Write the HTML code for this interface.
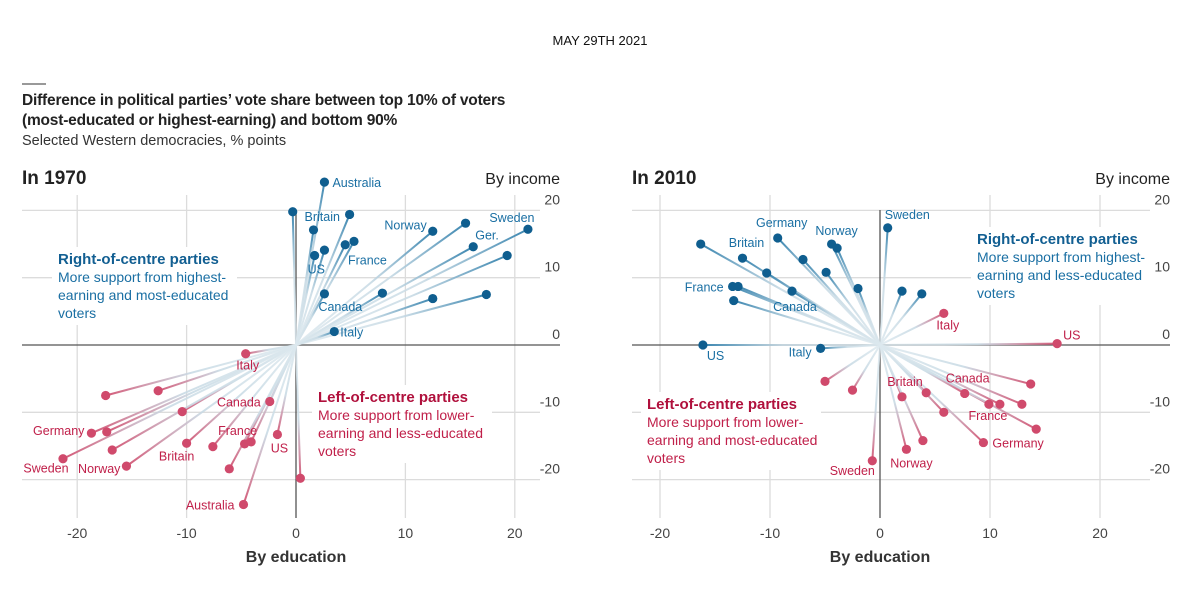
<!DOCTYPE html>
<html><head><meta charset="utf-8">
<style>
body{margin:0;background:#fff;}
svg{display:block;font-family:"Liberation Sans",sans-serif;}
</style></head>
<body>
<svg id="chart" width="1200" height="596" viewBox="0 0 1200 596" xmlns="http://www.w3.org/2000/svg">
<rect width="1200" height="596" fill="#fff"/>
<text x="600" y="45" text-anchor="middle" font-size="13" fill="#111">MAY 29TH 2021</text>
<line x1="22" y1="84" x2="46" y2="84" stroke="#333" stroke-width="1"/>
<text x="22" y="105" font-size="15.5" font-weight="bold" fill="#222" letter-spacing="-0.2">Difference in political parties’ vote share between top 10% of voters</text>
<text x="22" y="125" font-size="15.5" font-weight="bold" fill="#222" letter-spacing="-0.2">(most-educated or highest-earning) and bottom 90%</text>
<text x="22" y="145" font-size="14.5" fill="#333">Selected Western democracies, % points</text>
<defs id="defs"></defs>
<g id="panels"></g>
</svg>
<script>
// ---- data: 1970 ----
const blueX1970 = [2.6, -0.3, 1.6, 4.9, 2.6, 1.7, 4.5, 5.3, 12.5, 15.5, 16.2, 21.2, 19.3, 7.9, 12.5, 17.4, 2.6, 3.5];
const blueY1970 = [24.2, 19.8, 17.1, 19.4, 14.1, 13.3, 14.9, 15.4, 16.9, 18.1, 14.6, 17.2, 13.3, 7.7, 6.9, 7.5, 7.6, 2.0];
const blueNames1970 = ["Australia", "", "Britain", "", "", "US", "", "France", "Norway", "", "Ger.", "Sweden", "", "", "", "", "Canada", "Italy"];
const redX1970 = [-4.6, -17.4, -12.6, -2.4, -10.4, -18.7, -17.3, -16.8, -21.3, -15.5, -10.0, -7.6, -4.7, -4.1, -1.7, -6.1, -4.8, 0.4];
const redY1970 = [-1.3, -7.5, -6.8, -8.4, -9.9, -13.1, -12.9, -15.6, -16.9, -18.0, -14.6, -15.1, -14.7, -14.4, -13.3, -18.4, -23.7, -19.8];
const redNames1970 = ["Italy", "", "", "Canada", "", "Germany", "", "", "Sweden", "Norway", "Britain", "", "France", "", "US", "", "Australia", ""];
// ---- data: 2010 ----
const blueX2010 = [0.7, -16.3, -12.5, -9.3, -7.0, -10.3, -4.4, -3.9, -4.9, -2.0, -13.4, -12.9, -13.3, -8.0, 2.0, 3.8, -16.1, -5.4];
const blueY2010 = [17.4, 15.0, 12.9, 15.9, 12.7, 10.7, 15.0, 14.4, 10.8, 8.4, 8.7, 8.7, 6.6, 8.0, 8.0, 7.6, 0.0, -0.5];
const blueNames2010 = ["Sweden", "", "Britain", "Germany", "", "", "Norway", "", "", "", "France", "", "", "Canada", "", "", "US", "Italy"];
const redX2010 = [5.8, 16.1, -5.0, -2.5, 2.0, 4.2, 5.8, 7.7, 9.9, 10.9, 13.7, 12.9, 14.2, 9.4, 3.9, 2.4, -0.7];
const redY2010 = [4.7, 0.2, -5.4, -6.7, -7.7, -7.1, -10.0, -7.2, -8.8, -8.8, -5.8, -8.8, -12.5, -14.5, -14.2, -15.5, -17.2];
const redNames2010 = ["Italy", "US", "", "", "Britain", "", "", "Canada", "France", "", "", "", "", "Germany", "", "Norway", "Sweden"];
const xTicks = [-20, -10, 0, 10, 20];
const yTicks = [20, 10, 0, -10, -20];

// label placement (offset from point, px)
const labelPos = {
 "1970b": {Australia:[8,5,"start"],Britain:[-9,-9,"start"],US:[-7,18,"start"],France:[-6,23,"start"],Norway:[-6,-2,"end"],"Ger.":[2,-7,"start"],Sweden:[-16,-7,"middle"],Canada:[-6,17,"start"],Italy:[6,5,"start"]},
 "1970r": {Italy:[2,16,"middle"],Canada:[-9,5,"end"],Germany:[-7,2,"end"],Sweden:[-17,14,"middle"],Norway:[-6,7,"end"],Britain:[-10,17,"middle"],France:[-7,-9,"middle"],US:[2,18,"middle"],Australia:[-9,5,"end"]},
 "2010b": {Sweden:[-3,-9,"start"],Germany:[4,-11,"middle"],Norway:[5,-9,"middle"],Britain:[4,-11,"middle"],France:[-9,5,"end"],Canada:[3,20,"middle"],US:[4,15,"start"],Italy:[-9,8,"end"]},
 "2010r": {Italy:[4,16,"middle"],US:[6,-4,"start"],Britain:[3,-11,"middle"],Canada:[3,-11,"middle"],France:[-1,16,"middle"],Germany:[9,5,"start"],Norway:[5,18,"middle"],Sweden:[-20,14,"middle"]}
};

const NS = "http://www.w3.org/2000/svg";
const panelsG = document.getElementById('panels');
const defs = document.getElementById('defs');
let gid = 0;
function mk(tag, attrs, parent){ const e=document.createElementNS(NS,tag); for(const k in attrs) e.setAttribute(k,attrs[k]); parent.appendChild(e); return e; }

const BLUE="#0f5e8f", BLUE_LINE="#3b86b0", BLUE_TXT="#1a6fa3";
const RED="#d04a6c", RED_LINE="#d45a78", RED_TXT="#c0204a";

function panel(cfg){
  const g = mk('g',{},panelsG);
  
  
  const xs = v => cfg.x0 + v*cfg.kx;
  const ys = v => 345 - v*6.73;
  xTicks.forEach(t=>{
    if(t===0) return;
    const l = mk('line',{x1:xs(t),x2:xs(t),y1:195,y2:518,stroke:"#dcdcdc","stroke-width":1.3},g);
    
    
  });
  yTicks.forEach(t=>{
    if(t===0) return;
    const l = mk('line',{x1:cfg.left,x2:cfg.right,y1:ys(t),y2:ys(t),stroke:"#dcdcdc","stroke-width":1.3},g);
    
    
  });
  cfg.annots.forEach(a=>{ mk('rect',{x:a.x-6,y:a.y-17,width:a.w,height:a.lines.length*18+6,fill:"#fff"},g); });
  const ax = mk('line',{x1:cfg.left,x2:cfg.right+20,y1:ys(0),y2:ys(0),stroke:"#555","stroke-width":1.3},g);
  
  
  const ay = mk('line',{x1:xs(0),x2:xs(0),y1:210,y2:518,stroke:"#555","stroke-width":1.3},g);
  
  
  xTicks.forEach(t=>{
    const tx = mk('text',{x:xs(t),y:538,"text-anchor":"middle","font-size":14,fill:"#444"},g);
    tx.textContent = t;
    
    
  });
  yTicks.forEach(t=>{
    const tx = mk('text',{x:cfg.right+20,y:ys(t)-6,"text-anchor":"end","font-size":14,fill:"#444"},g);
    tx.textContent = t;
    
    
  });
  function series(X,Y,N,col,lcol,tcol,key,sname){
    const pos = labelPos[key];
    X.forEach((v,i)=>{
      const px=xs(v), py=ys(Y[i]);
      const id='gr'+(gid++);
      const lg = mk('linearGradient',{id:id,gradientUnits:"userSpaceOnUse",x1:xs(0),y1:ys(0),x2:px,y2:py},defs);
      mk('stop',{offset:"0","stop-color":"#dce8ee","stop-opacity":0.8},lg);
      mk('stop',{offset:"0.55","stop-color":"#c9dbe5","stop-opacity":0.9},lg);
      mk('stop',{offset:"1","stop-color":lcol},lg);
      const ln = mk('line',{x1:xs(0),y1:ys(0),x2:px,y2:py,stroke:"url(#"+id+")","stroke-width":2},g);
      
      
    });
    X.forEach((v,i)=>{
      const px=xs(v), py=ys(Y[i]);
      const c = mk('circle',{cx:px,cy:py,r:4.6,fill:col},g);
      
      
      const nm=N[i];
      if(nm && pos[nm]){
        const p=pos[nm];
        const t = mk('text',{x:px+p[0],y:py+p[1],"text-anchor":p[2],"font-size":12.5,fill:tcol},g);
        t.textContent=nm;
        
        
      }
    });
  }
  series(cfg.bx,cfg.by,cfg.bn,BLUE,BLUE_LINE,BLUE_TXT,cfg.key+"b","right-party");
  series(cfg.rx,cfg.ry,cfg.rn,RED,RED_LINE,RED_TXT,cfg.key+"r","left-party");
  cfg.annots.forEach(a=>{
    a.lines.forEach((s,i)=>{
      const t = mk('text',{x:a.x,y:a.y+i*18,"font-size":i===0?15:14,"font-weight":i===0?"bold":"normal",fill:i===0?a.hc:a.c},g);
      t.textContent=s;
      
      
    });
  });
  const ttl = mk('text',{x:cfg.left,y:184,"font-size":19,"font-weight":"bold",fill:"#222"},g);
  ttl.textContent = cfg.title;
  
  
  const yt = mk('text',{x:cfg.right+20,y:184,"text-anchor":"end","font-size":16,fill:"#222"},g);
  yt.textContent = "By income";
  
  
  const xt = mk('text',{x:xs(0),y:562,"text-anchor":"middle","font-size":16,"font-weight":"bold",fill:"#333"},g);
  xt.textContent = "By education";
  
  
}

panel({name:'panel-1970',key:'1970',title:'In 1970',x0:296,kx:10.94,left:22,right:540,
  bx:blueX1970,by:blueY1970,bn:blueNames1970,rx:redX1970,ry:redY1970,rn:redNames1970,
  annots:[{x:58,y:264,w:185,c:BLUE_TXT,hc:"#125f92",lines:["Right-of-centre parties","More support from highest-","earning and most-educated","voters"]},
          {x:318,y:402,w:180,c:RED_TXT,hc:"#b0103c",lines:["Left-of-centre parties","More support from lower-","earning and less-educated","voters"]}]});
panel({name:'panel-2010',key:'2010',title:'In 2010',x0:880,kx:11.0,left:632,right:1150,
  bx:blueX2010,by:blueY2010,bn:blueNames2010,rx:redX2010,ry:redY2010,rn:redNames2010,
  annots:[{x:977,y:244,w:180,c:BLUE_TXT,hc:"#125f92",lines:["Right-of-centre parties","More support from highest-","earning and less-educated","voters"]},
          {x:647,y:409,w:180,c:RED_TXT,hc:"#b0103c",lines:["Left-of-centre parties","More support from lower-","earning and most-educated","voters"]}]});
</script>
</body></html>
